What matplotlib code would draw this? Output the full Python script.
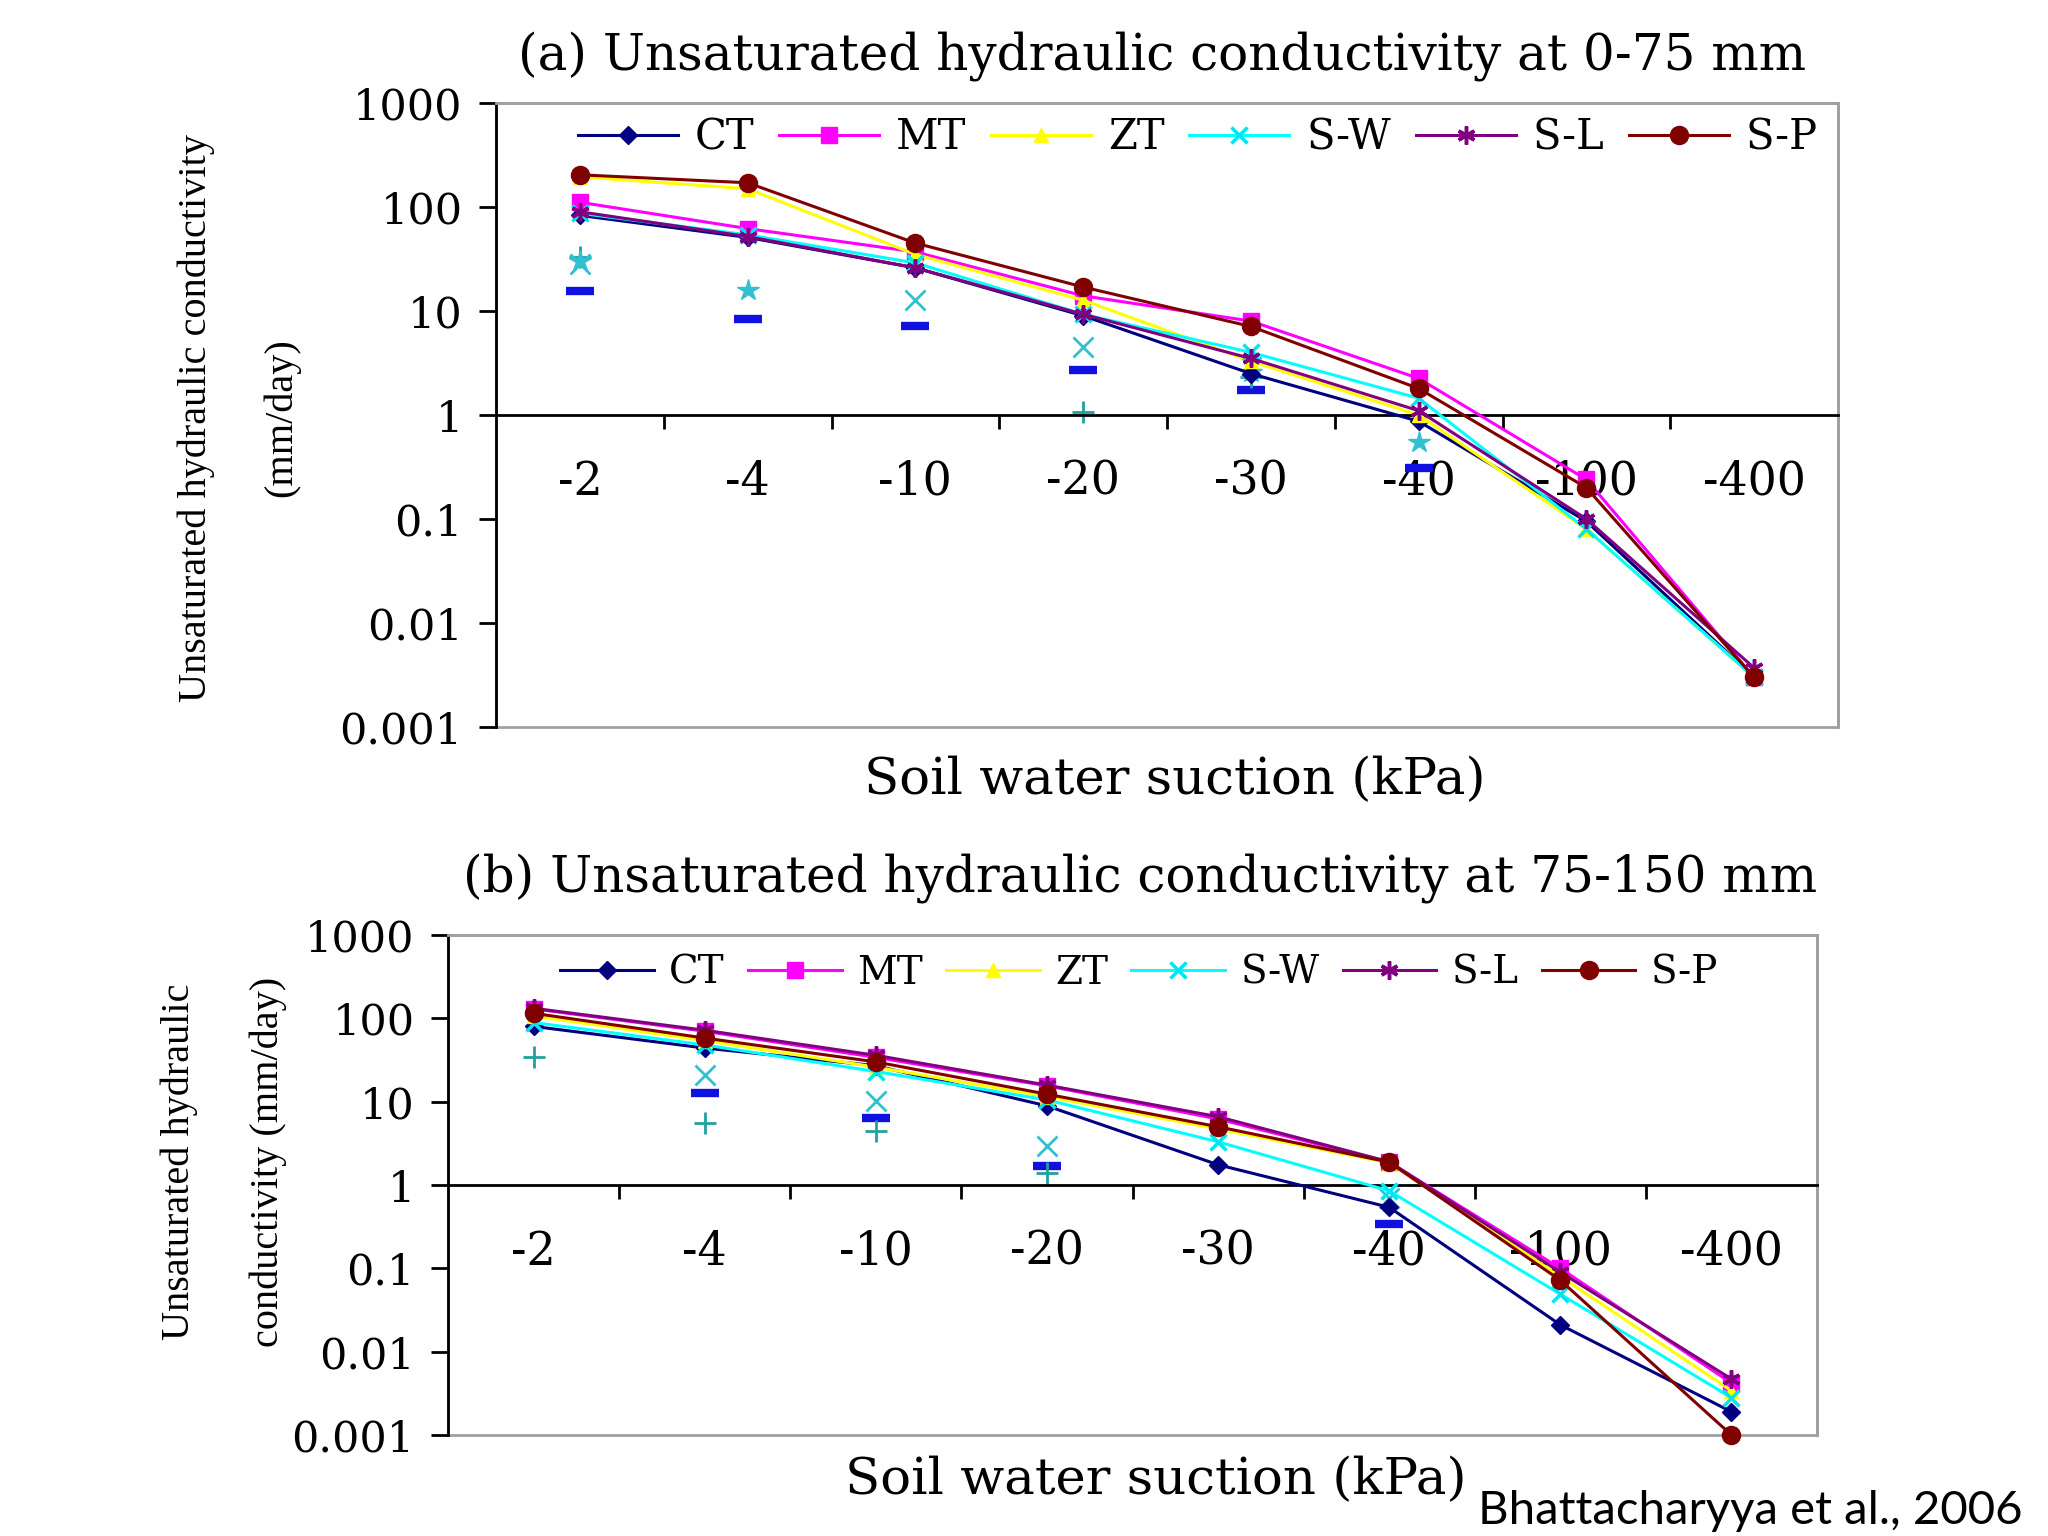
import matplotlib
matplotlib.use("Agg")
import matplotlib.pyplot as plt
import numpy as np
from matplotlib.patches import Rectangle

categories = ["-2", "-4", "-10", "-20", "-30", "-40", "-100", "-400"]
series_names = ["CT", "MT", "ZT", "S-W", "S-L", "S-P"]

# Panel (a) 0-75 mm
a_CT = [83, 51, 26, 9.0, 2.5, 0.87, 0.095, 0.003]
a_MT = [111, 62, 37, 14, 8.0, 2.25, 0.24, 0.003]
a_ZT = [195, 150, 35, 12.7, 3.3, 1.0, 0.08, 0.003]
a_SW = [87, 54, 29, 9.3, 4.0, 1.45, 0.08, 0.003]
a_SL = [90, 52, 26, 9.3, 3.5, 1.1, 0.10, 0.0037]
a_SP = [204, 171, 45, 17, 7.1, 1.8, 0.20, 0.003]
a_dash = [15.6, 8.3, 7.2, 2.7, 1.75, 0.31, np.nan, np.nan]
a_plus = [33, np.nan, np.nan, 1.07, 2.3, np.nan, np.nan, np.nan]
a_star = [30, 16, np.nan, np.nan, 2.6, 0.55, np.nan, np.nan]
a_x = [28, np.nan, 12.7, 4.5, 2.9, np.nan, np.nan, np.nan]

# Panel (b) 75-150 mm
b_CT = [80, 44, 27, 8.9, 1.75, 0.54, 0.021, 0.0019]
b_MT = [130, 70, 34, 15.5, 6.2, 1.88, 0.10, 0.0042]
b_ZT = [107, 54, 26, 11.5, 4.7, 1.85, 0.08, 0.0034]
b_SW = [89, 48, 23, 10.5, 3.3, 0.85, 0.049, 0.0028]
b_SL = [132, 72, 36, 15.8, 6.6, 1.9, 0.09, 0.0047]
b_SP = [115, 58, 30, 12.3, 5.0, 1.88, 0.072, 0.001]
b_dash = [np.nan, 12.7, 6.4, 1.7, np.nan, 0.34, np.nan, np.nan]
b_plus = [34, 5.5, 4.5, 1.4, np.nan, np.nan, np.nan, np.nan]
b_x = [np.nan, 21, 10.2, 2.9, np.nan, 0.7, np.nan, np.nan]

colors = ["#000080", "#FF00FF", "#FFFF00", "#00FFFF", "#800080", "#800000"]
mcolors = ["#000080", "#FF00FF", "#FFFF00", "#00E5EE", "#800080", "#800000"]
markers = ["D", "s", "^", "x", (6, 2, 0), "o"]
msizes = [9, 11, 10, 11, 13, 13]

NARROW = ["Liberation Serif", "DejaVu Serif"]
WIDE = ["DejaVu Serif", "Liberation Serif"]
plt.rcParams['font.family'] = WIDE

fig = plt.figure(figsize=(20.48, 15.36), dpi=100)
fig.patch.set_facecolor("white")


def panel(rect, data, extras, title, title_xy, ylabel_lines, ylab_x, ylab_y, xlabel_xy,
          leg_anchor, leg_fs, leg_cs):
    ax = fig.add_axes(rect)
    x = np.arange(len(categories)) + 0.5
    for i, (name, vals) in enumerate(zip(series_names, data)):
        ax.plot(x, vals, color=colors[i], lw=2.2, marker=markers[i], ms=msizes[i],
                mfc=mcolors[i], mec=mcolors[i], mew=2.5 if i in (3, 4) else 1,
                label=name, zorder=3 + i, clip_on=False)
    for vals, mk, col, ms, mew in extras:
        ax.plot(x, vals, ls="none", marker=mk, color=col, ms=ms, mew=mew, zorder=2, clip_on=False)
    ax.set_yscale("log")
    ax.set_ylim(0.001, 1000)
    ax.set_xlim(0, len(categories))
    ax.set_yticks([0.001, 0.01, 0.1, 1, 10, 100, 1000])
    ax.set_yticklabels(["0.001", "0.01", "0.1", "1", "10", "100", "1000"])
    ax.yaxis.set_minor_locator(matplotlib.ticker.NullLocator())
    ax.tick_params(axis="y", which="major", direction="out", length=12, width=2,
                   labelsize=31, pad=12)
    ax.set_xticks(x)
    ax.set_xticklabels(categories)
    ax.set_xticks(np.arange(1, len(categories)), minor=True)
    ax.tick_params(axis="x", which="major", length=0, labelsize=33, pad=32)
    ax.tick_params(axis="x", which="minor", direction="out", length=10, width=2)
    ax.spines["bottom"].set_position(("data", 1))
    ax.spines["bottom"].set_linewidth(2)
    ax.spines["left"].set_linewidth(2)
    for s in ("top", "right"):
        ax.spines[s].set_color("#a0a0a0")
        ax.spines[s].set_linewidth(2)
    ax.add_patch(Rectangle((0, 0), 1, 1, transform=ax.transAxes, fill=False,
                           ec="#a0a0a0", lw=2, zorder=0, clip_on=False))
    ax.legend(loc="center", bbox_to_anchor=leg_anchor, ncol=6, frameon=False,
              fontsize=leg_fs, handlelength=2.4, columnspacing=leg_cs, handletextpad=0.4,
              borderaxespad=0)
    fig.text(title_xy[0], title_xy[1], title, ha="center", va="center", fontsize=36)
    for (t, lx) in zip(ylabel_lines, ylab_x):
        fig.text(lx, ylab_y, t, rotation=90, ha="center", va="center", fontsize=29,
                 family=NARROW)
    fig.text(xlabel_xy[0], xlabel_xy[1], "Soil water suction (kPa)", ha="center",
             va="center", fontsize=37)
    return ax


W, H = 2048, 1536
rect_a = [496 / W, 1 - 727 / H, (1838 - 496) / W, 624 / H]
rect_b = [448 / W, 1 - 1435 / H, (1817 - 448) / W, 500 / H]

extras_a = [
    (a_dash, "_", "#1010E0", 20, 6),
    (a_plus, "+", "#20A0A0", 16, 2),
    (a_star, "*", "#30C0D0", 16, 1),
    (a_x, "x", "#30C0D0", 14, 2),
]
extras_b = [
    (b_dash, "_", "#1010E0", 20, 6),
    (b_plus, "+", "#20A0A0", 16, 2),
    (b_x, "x", "#30C0D0", 14, 2),
]

panel(rect_a, [a_CT, a_MT, a_ZT, a_SW, a_SL, a_SP], extras_a,
      "(a) Unsaturated hydraulic conductivity at 0-75 mm", (1162 / W, 1 - 56 / H),
      ["Unsaturated hydraulic conductivity", "(mm/day)"], [196 / W, 281 / W], 1 - 418 / H,
      (1175 / W, 1 - 780 / H), (0.523, 0.945), 30, 0.6)

panel(rect_b, [b_CT, b_MT, b_ZT, b_SW, b_SL, b_SP], extras_b,
      "(b) Unsaturated hydraulic conductivity at 75-150 mm", (1140 / W, 1 - 878 / H),
      ["Unsaturated hydraulic", "conductivity (mm/day)"], [179 / W, 268 / W], 1 - 1162 / H,
      (1156 / W, 1 - 1480 / H), (0.505, 0.924), 28, 0.6)

fig.text(2022 / W, 1 - 1511 / H, "Bhattacharyya et al., 2006", ha="right", va="center",
         fontsize=34, family=["Lato", "DejaVu Sans"])

fig.savefig("out.png", dpi=100, facecolor="white")
